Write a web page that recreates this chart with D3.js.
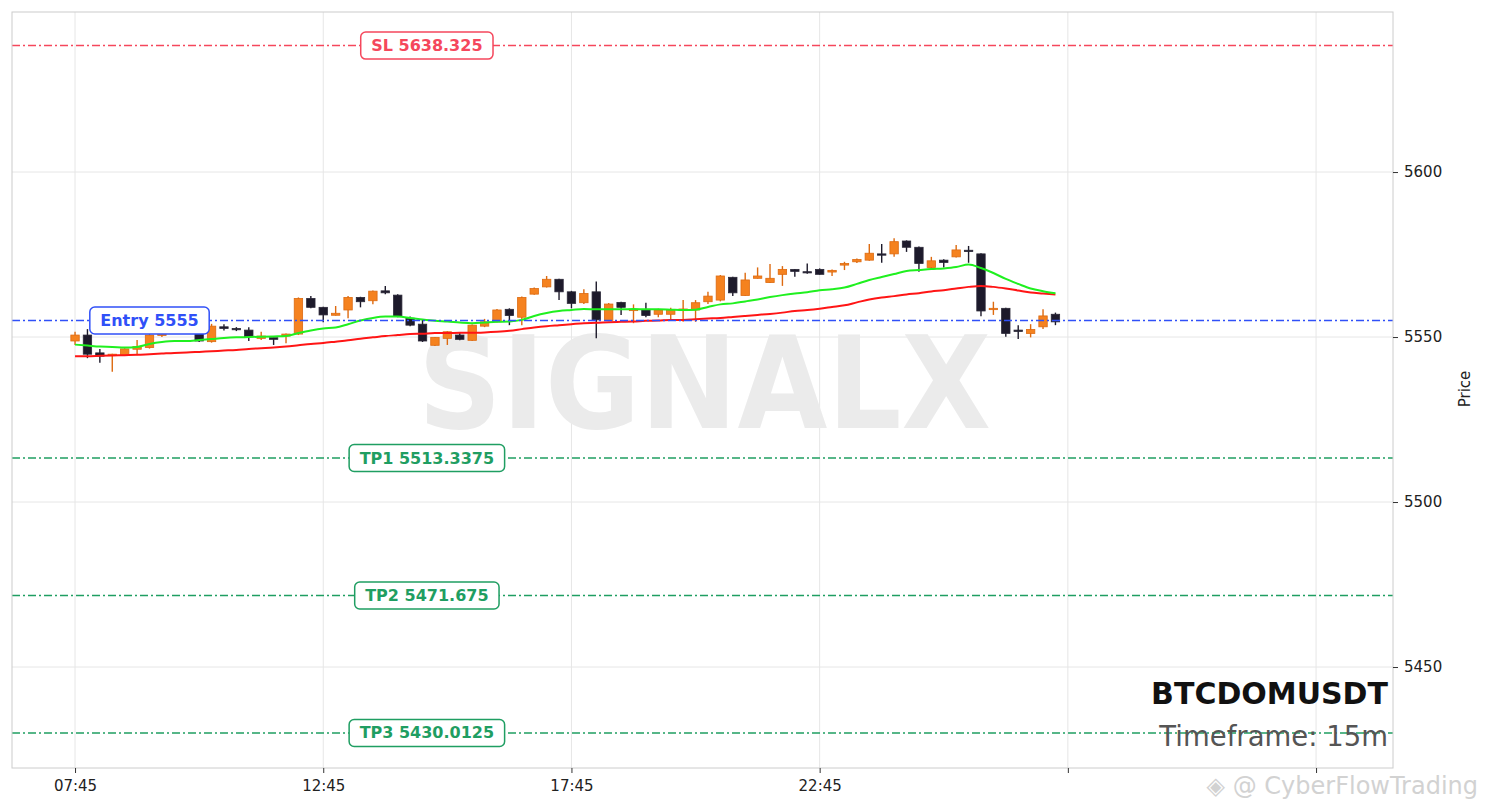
<!DOCTYPE html>
<html>
<head>
<meta charset="utf-8">
<script src="https://cdn.jsdelivr.net/npm/d3@7/dist/d3.min.js"></script>
<style>
  html, body { margin: 0; padding: 0; background: #ffffff; }
  svg { display: block; font-family: "DejaVu Sans", sans-serif; }
</style>
</head>
<body>
<svg id="chart" width="1485" height="808"></svg>
<script>
// ---------------- data ----------------
const opens = [5548.8,5550.6,5545.2,5544.5,5544.5,5546.3,5546.8,5550.5,5553.0,5552.0,
  5552.0,5548.6,5553.1,5552.6,5552.1,5549.6,5549.8,5550.3,5550.9,5561.7,
  5559.0,5556.6,5558.2,5562.0,5561.0,5564.0,5562.7,5555.7,5553.9,5547.5,
  5549.6,5550.6,5549.0,5553.3,5554.6,5558.4,5556.0,5563.0,5565.2,5567.5,
  5563.7,5560.4,5563.7,5555.0,5560.5,5558.0,5558.2,5556.9,5556.9,5558.0,
  5558.2,5560.7,5561.2,5568.1,5562.6,5567.8,5566.5,5569.0,5570.5,5569.8,
  5570.5,5569.7,5571.8,5572.8,5573.3,5575.2,5575.2,5579.1,5577.2,5571.1,
  5573.3,5574.3,5576.3,5575.2,5558.3,5558.7,5552.1,5551.1,5553.1,5556.9];
const highs = [5551.6,5552.4,5546.4,5544.9,5546.6,5549.1,5551.0,5554.0,5554.5,5553.5,
  5553.0,5554.0,5553.9,5553.0,5553.0,5551.6,5549.8,5551.1,5562.0,5562.4,
  5559.2,5559.4,5562.4,5562.2,5564.1,5565.5,5563.0,5556.2,5555.2,5550.0,
  5551.8,5551.5,5553.8,5555.5,5558.5,5558.7,5562.3,5565.0,5568.5,5567.7,
  5564.0,5564.5,5566.8,5560.3,5560.7,5559.9,5560.4,5558.6,5558.9,5561.2,
  5561.2,5563.7,5568.8,5568.3,5569.5,5571.1,5572.1,5571.5,5570.6,5572.3,
  5570.8,5570.5,5572.8,5573.8,5578.2,5578.2,5579.9,5579.3,5577.4,5574.3,
  5573.6,5577.9,5577.6,5575.4,5560.7,5558.9,5553.6,5553.9,5558.4,5557.4];
const lows = [5547.6,5543.6,5542.2,5539.5,5544.4,5544.5,5546.5,5550.0,5551.0,5551.0,
  5548.5,5548.3,5552.0,5551.8,5548.8,5549.1,5547.6,5548.1,5550.6,5558.7,
  5554.5,5556.5,5555.7,5559.0,5559.9,5563.0,5556.0,5553.3,5548.5,5547.3,
  5547.6,5549.0,5548.8,5553.0,5554.4,5553.6,5553.6,5562.8,5565.0,5561.2,
  5558.7,5560.0,5549.6,5554.8,5556.7,5554.2,5556.0,5556.0,5555.2,5554.6,
  5554.6,5560.0,5560.8,5562.4,5562.5,5567.7,5566.4,5565.5,5568.3,5569.2,
  5568.9,5568.5,5570.3,5572.4,5573.1,5572.5,5574.3,5575.8,5569.8,5570.5,
  5571.1,5574.1,5572.5,5556.3,5556.7,5550.1,5549.4,5549.9,5552.4,5553.6];
const closes = [5550.6,5544.8,5544.2,5544.8,5546.4,5547.1,5550.6,5553.0,5552.0,5552.3,
  5548.8,5553.3,5552.6,5552.2,5550.1,5550.3,5549.3,5550.9,5561.7,5559.0,
  5556.7,5557.2,5562.0,5560.7,5563.9,5563.4,5556.2,5553.6,5548.8,5549.9,
  5551.6,5549.3,5553.6,5554.6,5558.2,5556.5,5562.0,5564.7,5567.5,5563.7,
  5560.2,5563.2,5555.2,5560.0,5559.0,5558.4,5556.5,5558.2,5558.2,5558.5,
  5560.4,5562.4,5568.5,5563.4,5567.3,5568.5,5567.8,5570.5,5569.9,5569.5,
  5569.0,5570.2,5572.3,5573.5,5575.4,5574.8,5578.9,5577.2,5572.3,5573.1,
  5572.6,5576.4,5575.9,5557.9,5558.7,5551.1,5551.7,5552.3,5556.4,5554.6];
const maFast = [5547.7,5547.4,5547.1,5547.0,5546.8,5547.0,5547.9,5548.5,5548.8,5548.8,
  5549.1,5549.4,5549.7,5549.9,5550.0,5550.1,5550.2,5550.3,5551.2,5552.0,
  5552.6,5552.9,5553.9,5555.0,5555.8,5556.2,5556.2,5555.8,5555.3,5554.9,
  5554.7,5554.4,5554.2,5554.4,5554.6,5554.7,5555.2,5556.4,5557.3,5557.9,
  5558.2,5558.5,5558.4,5558.4,5558.4,5558.5,5558.4,5558.4,5558.3,5558.2,
  5558.3,5559.1,5559.9,5560.2,5560.8,5561.4,5562.1,5562.7,5563.2,5563.6,
  5564.2,5564.5,5565.0,5566.1,5567.3,5568.2,5569.1,5570.0,5570.3,5570.6,
  5570.8,5571.2,5572.0,5570.9,5569.4,5567.6,5566.1,5564.7,5563.9,5563.3];
const maSlow = [5544.2,5544.2,5544.3,5544.4,5544.5,5544.6,5544.8,5545.0,5545.2,5545.3,
  5545.5,5545.7,5545.9,5546.1,5546.4,5546.6,5546.8,5547.1,5547.5,5547.9,
  5548.2,5548.6,5549.0,5549.5,5549.9,5550.3,5550.6,5550.9,5551.0,5551.2,
  5551.2,5551.3,5551.3,5551.4,5551.6,5551.9,5552.4,5552.9,5553.3,5553.6,
  5553.9,5554.2,5554.3,5554.5,5554.6,5554.7,5554.9,5555.0,5555.2,5555.2,
  5555.4,5555.6,5555.8,5556.1,5556.4,5556.7,5557.0,5557.4,5557.9,5558.2,
  5558.6,5559.1,5559.6,5560.5,5561.4,5562.0,5562.4,5562.9,5563.3,5563.8,
  5564.2,5564.7,5565.2,5565.5,5565.2,5564.7,5564.1,5563.5,5563.2,5562.9];

const levelNames  = ["SL", "Entry", "TP1", "TP2", "TP3"];
const levelValues = [5638.325, 5555, 5513.3375, 5471.675, 5430.0125];
const levelTexts  = ["SL 5638.325", "Entry 5555", "TP1 5513.3375", "TP2 5471.675", "TP3 5430.0125"];
const levelColors = ["#f5475c", "#3050f8", "#1f9e62", "#1f9e62", "#1f9e62"];
const levelLabelAt = [28.35, 6.0, 28.35, 28.35, 28.35]; // candle-index position of each label

const yTicks = [5450, 5500, 5550, 5600];
const xTickIdx = [0, 20, 40, 60, 80, 100];
const xTickLabels = ["07:45", "12:45", "17:45", "22:45", "", ""];

const symbol = "BTCDOMUSDT";
const timeframe = "Timeframe: 15m";

// ---------------- layout ----------------
const plot = { left: 12, right: 1393, top: 12, bottom: 768 };
const svg = d3.select("#chart");

const x = d3.scaleLinear().domain([-5.08, 106.2]).range([plot.left, plot.right]);
const y = d3.scaleLinear().domain([5419.4, 5648.5]).range([plot.bottom, plot.top]);

const candles = opens.map((o, i) => ({ i, o, h: highs[i], l: lows[i], c: closes[i] }));

const defs = svg.append("defs");
defs.append("clipPath").attr("id", "clip").append("rect")
  .attr("x", plot.left).attr("y", plot.top)
  .attr("width", plot.right - plot.left).attr("height", plot.bottom - plot.top);

// grid
const grid = svg.append("g");
grid.selectAll("line.gy").data(yTicks).join("line")
  .attr("x1", plot.left).attr("x2", plot.right)
  .attr("y1", d => y(d)).attr("y2", d => y(d))
  .attr("stroke", "#e6e6e6").attr("stroke-width", 1);
grid.selectAll("line.gx").data(xTickIdx).join("line")
  .attr("x1", d => x(d)).attr("x2", d => x(d))
  .attr("y1", plot.top).attr("y2", plot.bottom)
  .attr("stroke", "#e6e6e6").attr("stroke-width", 1);

// watermark
svg.append("text")
  .attr("x", (plot.left + plot.right) / 2 + 2).attr("y", 428)
  .attr("text-anchor", "middle")
  .attr("font-size", 128).attr("font-weight", "bold")
  .attr("textLength", 573).attr("lengthAdjust", "spacingAndGlyphs")
  .attr("fill", "#ebebeb")
  .text("SIGNALX");

const g = svg.append("g").attr("clip-path", "url(#clip)");

// candles
const upFill = "#f5821f", upEdge = "#dd6a10";
const dnFill = "#1d1a2b", dnEdge = "#2b2838";
const bodyW = 8.4;
const cg = g.append("g");
cg.selectAll("line.wick").data(candles).join("line")
  .attr("x1", d => x(d.i)).attr("x2", d => x(d.i))
  .attr("y1", d => y(d.h)).attr("y2", d => y(d.l))
  .attr("stroke", d => d.c >= d.o ? upEdge : dnFill)
  .attr("stroke-width", 1.4);
cg.selectAll("rect.body").data(candles).join("rect")
  .attr("x", d => x(d.i) - bodyW / 2)
  .attr("width", bodyW)
  .attr("y", d => y(Math.max(d.o, d.c)))
  .attr("height", d => Math.max(1.2, Math.abs(y(d.o) - y(d.c))))
  .attr("fill", d => d.c >= d.o ? upFill : dnFill)
  .attr("stroke", d => d.c >= d.o ? upEdge : dnEdge)
  .attr("stroke-width", 0.8);

// moving averages
const line = arr => d3.line().x((d, i) => x(i)).y(d => y(d)).curve(d3.curveMonotoneX)(arr);
g.append("path").attr("d", line(maSlow)).attr("fill", "none")
  .attr("stroke", "#ff1515").attr("stroke-width", 2);
g.append("path").attr("d", line(maFast)).attr("fill", "none")
  .attr("stroke", "#1ff01f").attr("stroke-width", 2);

// level lines
g.selectAll("line.level").data(levelValues).join("line")
  .attr("x1", plot.left).attr("x2", plot.right)
  .attr("y1", d => y(d)).attr("y2", d => y(d))
  .attr("stroke", (d, i) => levelColors[i])
  .attr("stroke-width", 1.5)
  .attr("stroke-dasharray", "8,3,2,3");

// level labels
levelValues.forEach((v, i) => {
  const lg = svg.append("g");
  const t = lg.append("text")
    .attr("x", x(levelLabelAt[i])).attr("y", y(v))
    .attr("text-anchor", "middle").attr("dominant-baseline", "central")
    .attr("font-size", 16).attr("font-weight", "bold")
    .attr("fill", levelColors[i])
    .text(levelTexts[i]);
  const bb = t.node().getBBox();
  lg.insert("rect", "text")
    .attr("x", bb.x - 10.5).attr("y", y(v) - 13.5)
    .attr("width", bb.width + 21).attr("height", 27)
    .attr("rx", 5).attr("ry", 5)
    .attr("fill", "#ffffff").attr("stroke", levelColors[i]).attr("stroke-width", 1.5);
});

// symbol / timeframe
svg.append("text").attr("x", 1388).attr("y", 704).attr("text-anchor", "end")
  .attr("font-size", 30).attr("font-weight", "bold").attr("fill", "#111111")
  .text(symbol);
svg.append("text").attr("x", 1388).attr("y", 746).attr("text-anchor", "end")
  .attr("font-size", 27.5).attr("fill", "#555555")
  .text(timeframe);

// frame
svg.append("rect").attr("x", plot.left).attr("y", plot.top)
  .attr("width", plot.right - plot.left).attr("height", plot.bottom - plot.top)
  .attr("fill", "none").attr("stroke", "#cccccc").attr("stroke-width", 1);

// y axis (right)
const yAxis = d3.axisRight(y).tickValues(yTicks).tickSize(5).tickPadding(6).tickFormat(d3.format("d"));
const ya = svg.append("g").attr("transform", `translate(${plot.right},0)`).call(yAxis);
ya.select(".domain").remove();
ya.selectAll("line").attr("stroke", "#333");
ya.selectAll("text").attr("font-size", 15).attr("fill", "#222").attr("font-family", "DejaVu Sans");

svg.append("text")
  .attr("transform", `translate(1470, 389) rotate(-90)`)
  .attr("text-anchor", "middle").attr("font-size", 15).attr("fill", "#222")
  .text("Price");

// x axis
const xAxis = d3.axisBottom(x).tickValues(xTickIdx).tickSize(5).tickPadding(7)
  .tickFormat((d, i) => xTickLabels[i]);
const xa = svg.append("g").attr("transform", `translate(0,${plot.bottom})`).call(xAxis);
xa.select(".domain").remove();
xa.selectAll("line").attr("stroke", "#333");
xa.selectAll("text").attr("font-size", 15).attr("fill", "#222").attr("font-family", "DejaVu Sans");

// footer watermark
svg.append("text").attr("x", 1478).attr("y", 794).attr("text-anchor", "end")
  .attr("font-size", 24).attr("fill", "#d2d2d2")
  .text("◈ @ CyberFlowTrading");
</script>
</body>
</html>
